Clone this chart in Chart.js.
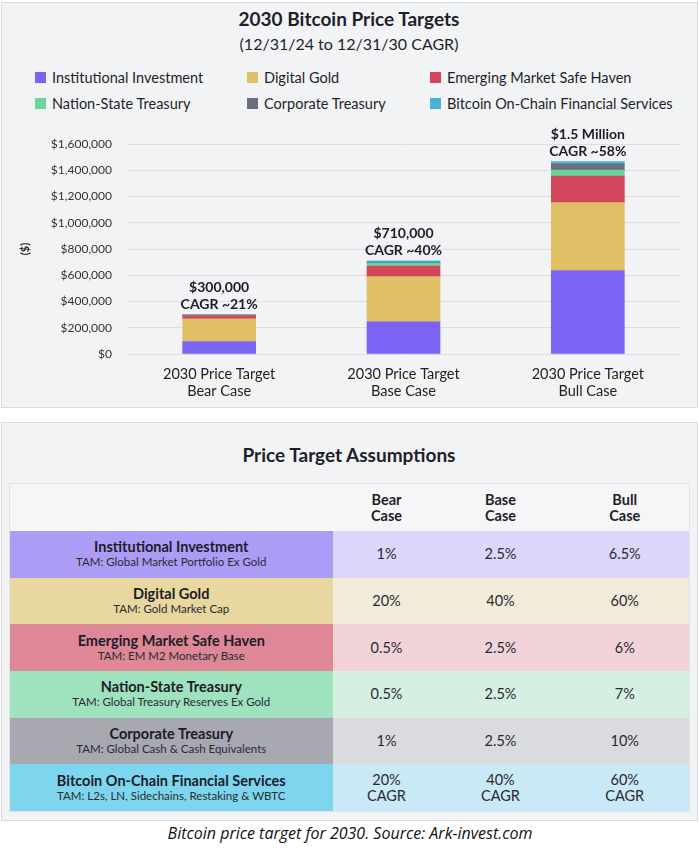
<!DOCTYPE html>
<html>
<head>
<meta charset="utf-8">
<script src="https://cdn.jsdelivr.net/npm/chart.js@4.4.1/dist/chart.umd.min.js"></script>
<style>
    body { margin: 0; background: #fff; font-family: Lato, 'Noto Sans', sans-serif; color: #1f1f2b; }
    .page { position: relative; width: 700px; height: 856px; }
    .panel { position: absolute; left: 1px; width: 695px; background: #f2f3f5; border: 1px solid #d8dadf; }
    .title { position: absolute; left: 0; width: 698px; text-align: center; font-weight: 700; font-size: 19px; }
    .subtitle { position: absolute; left: 0; width: 698px; text-align: center; font-size: 16px; }
    .legend { position: absolute; left: 35px; top: 64px; display: grid; grid-template-columns: 212px 183px auto; grid-auto-rows: 26px; font-size: 14.5px; }
    .legend div { display: flex; align-items: center; }
    .legend span { display: inline-block; width: 11px; height: 11px; margin-right: 6px; }
    #chartWrap { position: absolute; left: 0; top: 118px; }
    table { position: absolute; left: 9px; top: 483px; width: 680px; border-collapse: collapse; border: 1px solid #e2e3e7; table-layout: fixed; }
    th { background: #f6f6f8; height: 47px; font-size: 14.5px; font-weight: 700; line-height: 16px; padding: 0; }
    td { height: 46.7px; padding: 0; text-align: center; font-size: 14.5px; line-height: 16px; color: #2a2a33; }
    td.name b { display: block; font-size: 14.5px; color: #1c1c28; }
    td.name small { display: block; font-size: 11.5px; line-height: 14px; color: #2a2a33; }
    .caption { position: absolute; top: 822px; left: 0; width: 700px; text-align: center; font-family: 'Open Sans', sans-serif; font-style: italic; font-size: 16px; color: #111; }
</style>
</head>
<body>
<div class="page">
    <div class="panel" style="top:2px;height:404px;"></div>
    <div class="title" style="top:7px;">2030 Bitcoin Price Targets</div>
    <div class="subtitle" style="top:34px;">(12/31/24 to 12/31/30 CAGR)</div>
    <div class="legend" id="legend"></div>
    <div id="chartWrap"><canvas id="btcChart" width="698" height="287"></canvas></div>

    <div class="panel" style="top:422px;height:397px;"></div>
    <div class="title" style="top:443px;">Price Target Assumptions</div>
    <table id="assumptions"></table>
    <div class="caption">Bitcoin price target for 2030. Source: Ark-invest.com</div>
</div>

<script>
// chart data
const categories = [['2030 Price Target', 'Bear Case'], ['2030 Price Target', 'Base Case'], ['2030 Price Target', 'Bull Case']];
const seriesNames = ['Institutional Investment', 'Digital Gold', 'Emerging Market Safe Haven', 'Nation-State Treasury', 'Corporate Treasury', 'Bitcoin On-Chain Financial Services'];
const seriesColors = ['#7b63f3', '#e0c066', '#d3455b', '#6cd49a', '#6b6e7d', '#4ab3d3'];
const institutional = [95000, 245000, 636000];
const digitalGold = [173000, 345000, 517000];
const emergingMarket = [24000, 80000, 203000];
const nationState = [3000, 20000, 46000];
const corporate = [2000, 5000, 46000];
const onChain = [3000, 15000, 18000];
const priceLabels = ['$300,000', '$710,000', '$1.5 Million'];
const cagrLabels = ['CAGR ~21%', 'CAGR ~40%', 'CAGR ~58%'];

// table data
const rowNames = ['Institutional Investment', 'Digital Gold', 'Emerging Market Safe Haven', 'Nation-State Treasury', 'Corporate Treasury', 'Bitcoin On-Chain Financial Services'];
const rowTam = ['TAM: Global Market Portfolio Ex Gold', 'TAM: Gold Market Cap', 'TAM: EM M2 Monetary Base', 'TAM: Global Treasury Reserves Ex Gold', 'TAM: Global Cash & Cash Equivalents', 'TAM: L2s, LN, Sidechains, Restaking & WBTC'];
const bearCase = ['1%', '20%', '0.5%', '0.5%', '1%', '20%<br>CAGR'];
const baseCase = ['2.5%', '40%', '2.5%', '2.5%', '2.5%', '40%<br>CAGR'];
const bullCase = ['6.5%', '60%', '6%', '7%', '10%', '60%<br>CAGR'];
const labelColors = ['#ad9cf6', '#e8d79e', '#dd8797', '#9ee2be', '#a7a8b0', '#7dd6ee'];
const valueColors = ['#dcd6fa', '#f3ebd9', '#f0d2d8', '#d5f0e2', '#dadbdf', '#c8e9f5'];

const seriesValues = [institutional, digitalGold, emergingMarket, nationState, corporate, onChain];

// legend
const legend = document.getElementById('legend');
seriesNames.forEach(function(name, i) {
    const item = document.createElement('div');
    item.innerHTML = '<span style="background:' + seriesColors[i] + '"></span>' + name;
    legend.appendChild(item);
});

// table
const table = document.getElementById('assumptions');
let html = '<colgroup><col style="width:323px"><col style="width:108px"><col style="width:120px"><col style="width:129px"></colgroup>';
html += '<tr><th></th><th>Bear<br>Case</th><th>Base<br>Case</th><th>Bull<br>Case</th></tr>';
rowNames.forEach(function(name, i) {
    const bg = 'style="background:' + valueColors[i] + '"';
    html += '<tr><td class="name" style="background:' + labelColors[i] + '"><b>' + name + '</b><small>' + rowTam[i] + '</small></td>' +
        '<td ' + bg + '>' + bearCase[i] + '</td><td ' + bg + '>' + baseCase[i] + '</td><td ' + bg + '>' + bullCase[i] + '</td></tr>';
});
table.innerHTML = html;

// labels above each stacked bar
const topLabels = {
    id: 'topLabels',
    afterDatasetsDraw(chart) {
        const ctx = chart.ctx;
        const meta = chart.getDatasetMeta(chart.data.datasets.length - 1);
        ctx.save();
        ctx.fillStyle = '#1c1c28';
        ctx.font = 'bold 14px Lato, sans-serif';
        ctx.textAlign = 'center';
        ctx.textBaseline = 'middle';
        meta.data.forEach(function(bar, i) {
            ctx.fillText(cagrLabels[i], bar.x, bar.y - 10);
            ctx.fillText(priceLabels[i], bar.x, bar.y - 27);
        });
        ctx.restore();
    }
};

new Chart(document.getElementById('btcChart'), {
    type: 'bar',
    data: {
        labels: categories,
        datasets: seriesNames.map(function(name, i) {
            return { label: name, data: seriesValues[i], backgroundColor: seriesColors[i], barThickness: 73 };
        })
    },
    options: {
        responsive: false,
        animation: false,
        layout: { padding: { top: 26, right: 18, left: 0, bottom: 0 } },
        plugins: { legend: { display: false }, tooltip: { enabled: false } },
        scales: {
            x: {
                stacked: true,
                grid: { display: false },
                border: { display: false },
                ticks: { color: '#222', font: { family: 'Lato', size: 14.5, lineHeight: 1.17 }, padding: 4, maxRotation: 0 },
                afterFit: function(scale) { scale.height = 51; }
            },
            y: {
                stacked: true,
                min: 0,
                max: 1600000,
                border: { display: false },
                grid: { color: '#dcdee2', drawTicks: false },
                ticks: {
                    stepSize: 200000,
                    padding: 15,
                    color: '#333',
                    font: { family: 'Lato', size: 12 },
                    callback: function(value) { return '$' + value.toLocaleString('en-US'); }
                },
                title: { display: true, text: '($)', color: '#222', font: { family: 'Lato', size: 11, weight: 'bold' }, padding: { top: 19, bottom: 0 } },
                afterFit: function(scale) { scale.width = 127; }
            }
        }
    },
    plugins: [topLabels]
});
</script>
</body>
</html>
